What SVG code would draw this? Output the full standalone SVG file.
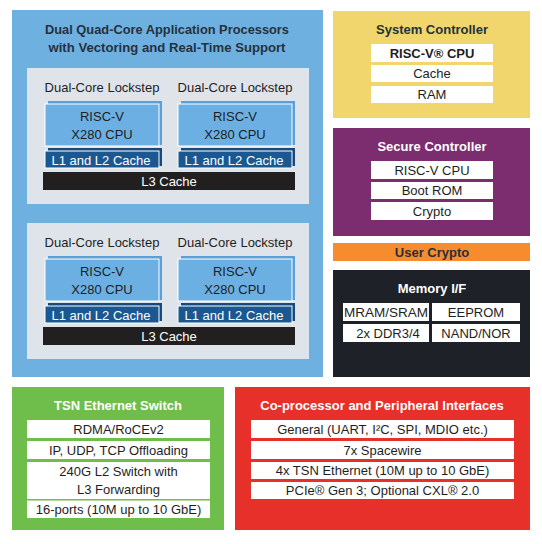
<svg xmlns="http://www.w3.org/2000/svg" width="542" height="544" viewBox="0 0 542 544">
<style>
text{font-family:"Liberation Sans",Arial,sans-serif;font-size:13px;text-anchor:middle;dominant-baseline:central;fill:#1e1e1e}
.b{font-weight:bold}
.w{fill:#fff}
.t{fill:#26303d;font-weight:bold}
.cell{fill:#fff}
.grey{fill:#dfe4ea}
.cpub{fill:#5b9fd8}
.cpuf{fill:#6cb0e3;stroke:#fff;stroke-width:1}
.l12b{fill:#17497d}
.l12f{fill:#1b5891;stroke:#fff;stroke-width:1}
.l3{fill:#221f20}
</style>
<rect width="542" height="544" fill="#fff"/>
<g id="app">
<rect x="12" y="10" width="311" height="367" fill="#6eb1e1"/>
<text x="167" y="29" class="t" textLength="244" lengthAdjust="spacingAndGlyphs">Dual Quad-Core Application Processors</text>
<text x="167" y="47" class="t" textLength="237" lengthAdjust="spacingAndGlyphs">with Vectoring and Real-Time Support</text>
</g>
<g id="cluster1">
<rect x="27" y="68" width="282" height="136" class="grey"/>
<text x="102" y="87" fill="#2a2a2a">Dual-Core Lockstep</text>
<text x="235" y="87" fill="#2a2a2a">Dual-Core Lockstep</text>
<rect x="48" y="101" width="114" height="44" class="cpub"/>
<rect x="45" y="104" width="114" height="42" class="cpuf"/>
<text x="102" y="116">RISC-V</text>
<text x="102" y="134">X280 CPU</text>
<rect x="48" y="148" width="114" height="18" class="l12b"/>
<rect x="45" y="151" width="114" height="17" class="l12f"/>
<text x="101" y="160" class="w">L1 and L2 Cache</text>
<rect x="181" y="101" width="114" height="44" class="cpub"/>
<rect x="178" y="104" width="114" height="42" class="cpuf"/>
<text x="235" y="116">RISC-V</text>
<text x="235" y="134">X280 CPU</text>
<rect x="181" y="148" width="114" height="18" class="l12b"/>
<rect x="178" y="151" width="114" height="17" class="l12f"/>
<text x="234" y="160" class="w">L1 and L2 Cache</text>
<rect x="43" y="172" width="252" height="18" class="l3"/>
<text x="169" y="181" class="w">L3 Cache</text>
</g>
<g id="cluster2">
<rect x="27" y="223" width="282" height="136" class="grey"/>
<text x="102" y="242" fill="#2a2a2a">Dual-Core Lockstep</text>
<text x="235" y="242" fill="#2a2a2a">Dual-Core Lockstep</text>
<rect x="48" y="256" width="114" height="44" class="cpub"/>
<rect x="45" y="259" width="114" height="42" class="cpuf"/>
<text x="102" y="271">RISC-V</text>
<text x="102" y="289">X280 CPU</text>
<rect x="48" y="303" width="114" height="18" class="l12b"/>
<rect x="45" y="306" width="114" height="17" class="l12f"/>
<text x="101" y="315" class="w">L1 and L2 Cache</text>
<rect x="181" y="256" width="114" height="44" class="cpub"/>
<rect x="178" y="259" width="114" height="42" class="cpuf"/>
<text x="235" y="271">RISC-V</text>
<text x="235" y="289">X280 CPU</text>
<rect x="181" y="303" width="114" height="18" class="l12b"/>
<rect x="178" y="306" width="114" height="17" class="l12f"/>
<text x="234" y="315" class="w">L1 and L2 Cache</text>
<rect x="43" y="327" width="252" height="18" class="l3"/>
<text x="169" y="336" class="w">L3 Cache</text>
</g>
<g id="sysctrl">
<rect x="333" y="11" width="197" height="107" fill="#f0d66c"/>
<text x="432" y="29" class="t">System Controller</text>
<rect x="371" y="44" width="122" height="18" class="cell"/>
<text x="432" y="53" class="b">RISC-V® CPU</text>
<rect x="371" y="65" width="122" height="17" class="cell"/>
<text x="432" y="73.5">Cache</text>
<rect x="371" y="86" width="122" height="17" class="cell"/>
<text x="432" y="94.5">RAM</text>
</g>
<g id="secctrl">
<rect x="333" y="128" width="197" height="108" fill="#7b2d6f"/>
<text x="432" y="146" class="b w">Secure Controller</text>
<rect x="371" y="161" width="122" height="18" class="cell"/>
<text x="432" y="170">RISC-V CPU</text>
<rect x="371" y="182" width="122" height="17" class="cell"/>
<text x="432" y="190.5">Boot ROM</text>
<rect x="371" y="202" width="122" height="18" class="cell"/>
<text x="432" y="211">Crypto</text>
</g>
<g id="usercrypto">
<rect x="333" y="243" width="197" height="18" fill="#f68c2e"/>
<text x="432" y="252" class="t">User Crypto</text>
</g>
<g id="memif">
<rect x="333" y="270" width="197" height="107" fill="#1e2128"/>
<text x="432" y="288" class="b w">Memory I/F</text>
<rect x="343" y="303" width="86" height="18" class="cell"/>
<text x="386" y="312" textLength="84" lengthAdjust="spacingAndGlyphs">MRAM/SRAM</text>
<rect x="432" y="303" width="88" height="18" class="cell"/>
<text x="476" y="312">EEPROM</text>
<rect x="343" y="324" width="86" height="18" class="cell"/>
<text x="388" y="333">2x DDR3/4</text>
<rect x="432" y="324" width="88" height="18" class="cell"/>
<text x="476" y="333">NAND/NOR</text>
</g>
<g id="tsn">
<rect x="12" y="387" width="212" height="143" fill="#6fbd4b"/>
<text x="118" y="405" class="b w">TSN Ethernet Switch</text>
<rect x="27" y="420" width="183" height="18" class="cell"/>
<text x="118.5" y="429">RDMA/RoCEv2</text>
<rect x="27" y="441" width="183" height="18" class="cell"/>
<text x="118.5" y="450">IP, UDP, TCP Offloading</text>
<rect x="27" y="462" width="183" height="37" class="cell"/>
<text x="118.5" y="471">240G L2 Switch with</text>
<text x="118.5" y="489">L3 Forwarding</text>
<rect x="27" y="500.5" width="183" height="17.5" class="cell"/>
<text x="118.5" y="509.5">16-ports (10M up to 10 GbE)</text>
</g>
<g id="periph">
<rect x="235" y="387" width="295" height="143" fill="#e8302a"/>
<text x="382" y="405" class="b w">Co-processor and Peripheral Interfaces</text>
<rect x="251" y="420" width="263" height="18" class="cell"/>
<text x="382.5" y="429">General (UART, I²C, SPI, MDIO etc.)</text>
<rect x="251" y="441" width="263" height="18" class="cell"/>
<text x="382.5" y="450">7x Spacewire</text>
<rect x="251" y="462" width="263" height="17" class="cell"/>
<text x="382.5" y="470.5">4x TSN Ethernet (10M up to 10 GbE)</text>
<rect x="251" y="482" width="263" height="17" class="cell"/>
<text x="382.5" y="490.5">PCIe® Gen 3; Optional CXL® 2.0</text>
</g>
<g id="connectors"></g>
</svg>
